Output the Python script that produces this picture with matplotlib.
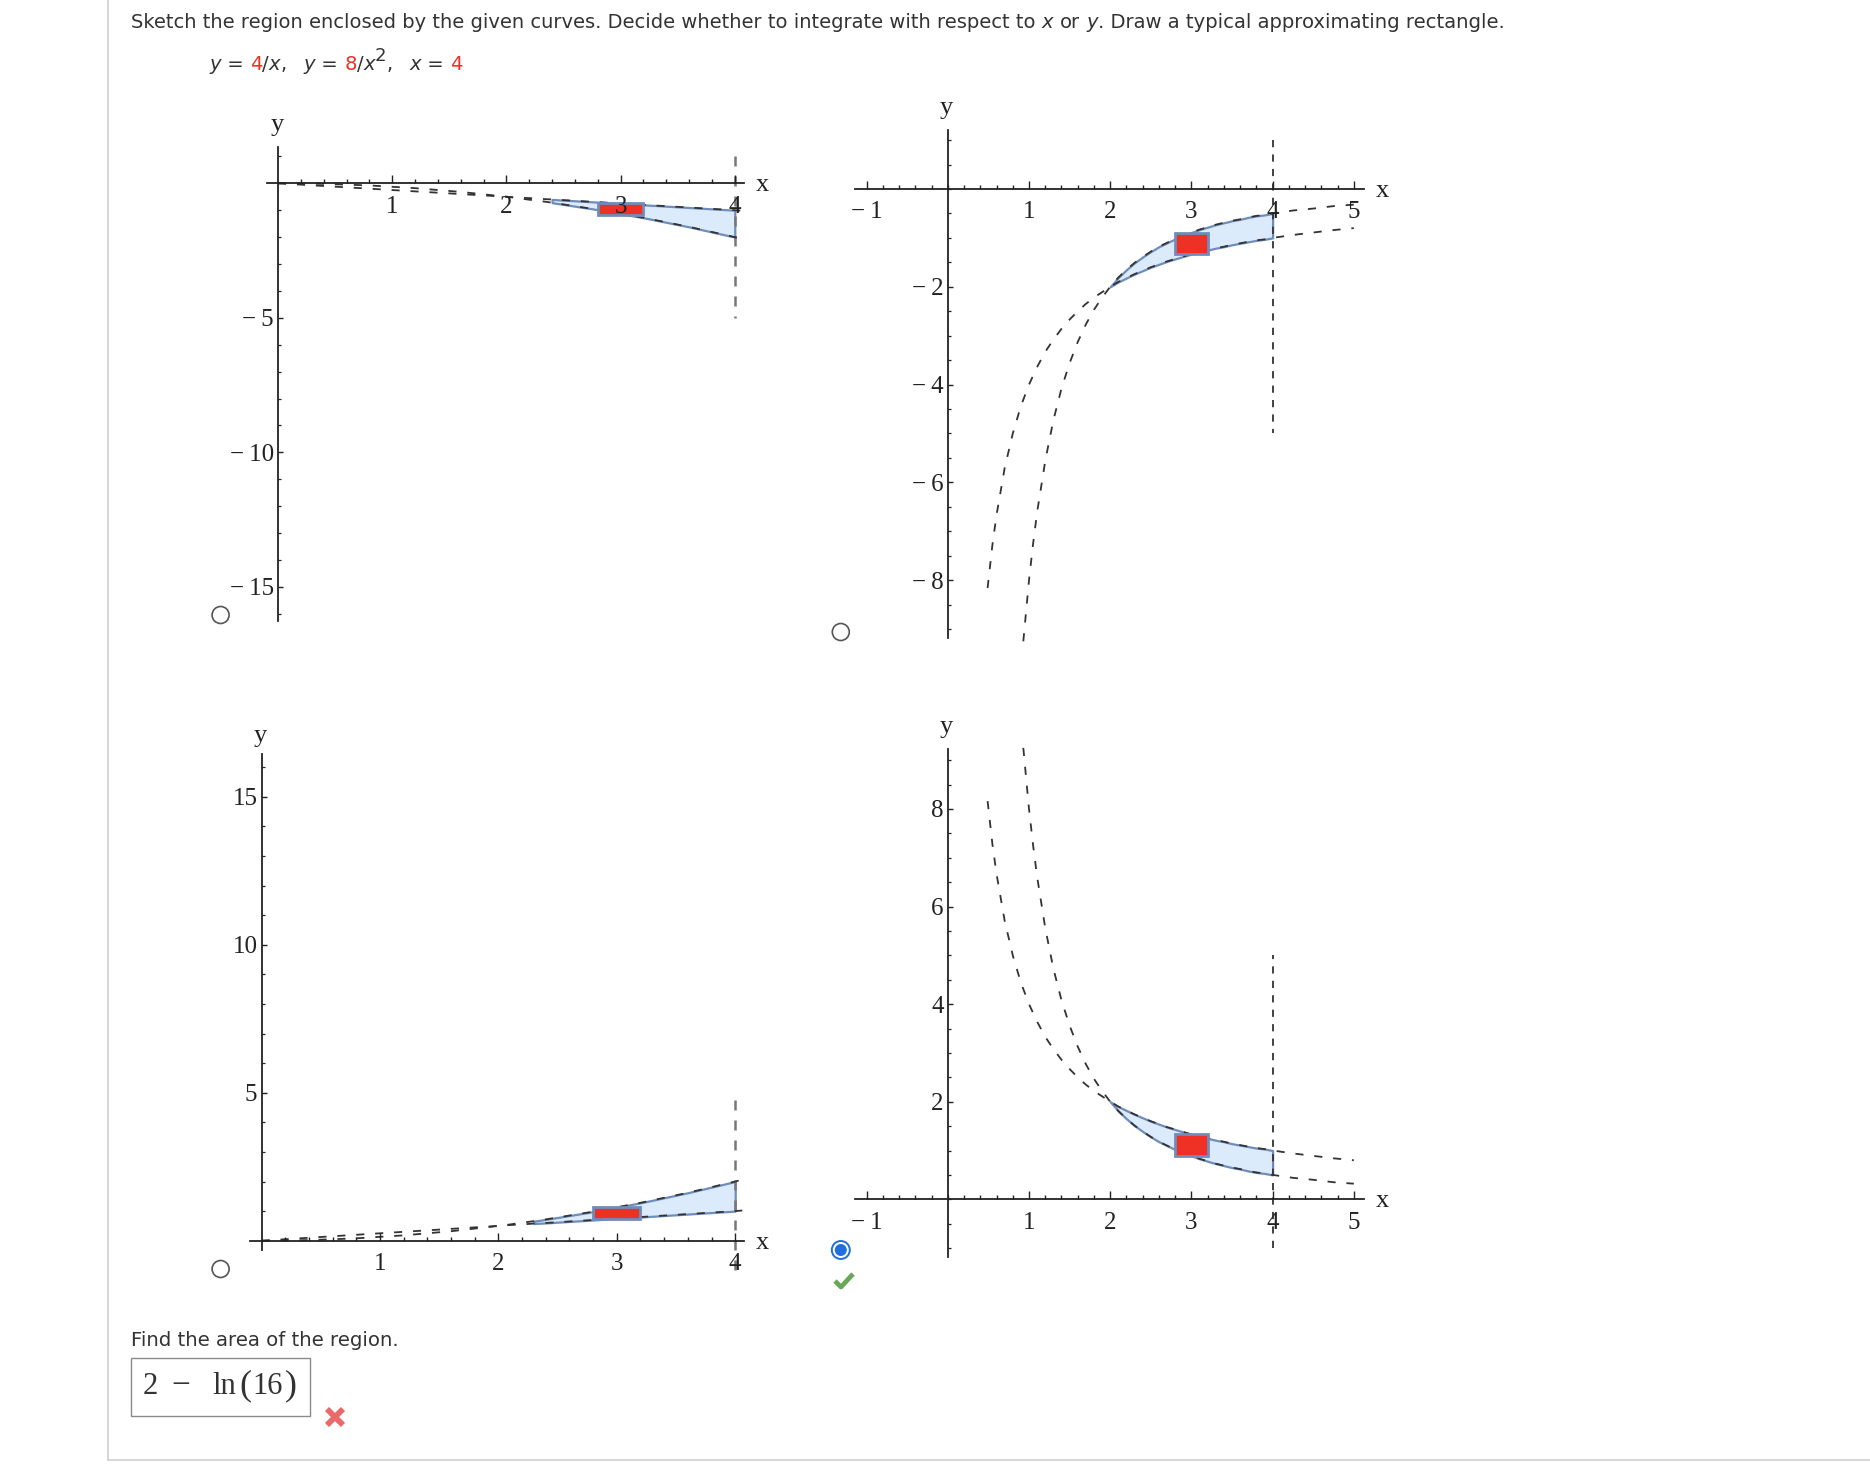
import matplotlib

matplotlib.use("Agg")
import matplotlib.pyplot as plt
import numpy as np
from matplotlib.patches import Circle, Rectangle

W, H = 1870, 1468
SERIF = "Liberation Serif"
SANS = "DejaVu Sans"
TEXT = "#333333"
RED = "#ee3124"
DASH = "#333333"
EDGE = "#6f8dbb"
FILL = "#dcebfb"

# y = 4/x and y = 8/x^2
x_reg = np.array([2.0, 2.1, 2.2, 2.3, 2.4, 2.5, 2.6, 2.7, 2.8, 2.9, 3.0,
                  3.1, 3.2, 3.3, 3.4, 3.5, 3.6, 3.7, 3.8, 3.9, 4.0])
y_hyp_reg = np.array([2.00, 1.90, 1.82, 1.74, 1.67, 1.60, 1.54, 1.48, 1.43, 1.38, 1.33,
                      1.29, 1.25, 1.21, 1.18, 1.14, 1.11, 1.08, 1.05, 1.03, 1.00])
y_sq_reg = np.array([2.00, 1.81, 1.65, 1.51, 1.39, 1.28, 1.18, 1.10, 1.02, 0.95, 0.89,
                     0.83, 0.78, 0.73, 0.69, 0.65, 0.62, 0.58, 0.55, 0.53, 0.50])

x_hyp_left = np.array([0.49, 0.55, 0.60, 0.70, 0.80, 0.90, 1.00, 1.10, 1.20, 1.30, 1.40, 1.50, 1.60, 1.70, 1.80, 1.90])
y_hyp_left = np.array([8.16, 7.27, 6.67, 5.71, 5.00, 4.44, 4.00, 3.64, 3.33, 3.08, 2.86, 2.67, 2.50, 2.35, 2.22, 2.11])
x_sq_left = np.array([0.93, 1.00, 1.05, 1.10, 1.20, 1.30, 1.40, 1.50, 1.60, 1.70, 1.80, 1.90])
y_sq_left = np.array([9.25, 8.00, 7.26, 6.61, 5.56, 4.73, 4.08, 3.56, 3.13, 2.77, 2.47, 2.22])
x_right = np.array([4.25, 4.50, 4.75, 5.00])
y_hyp_right = np.array([0.94, 0.89, 0.84, 0.80])
y_sq_right = np.array([0.44, 0.40, 0.35, 0.32])

# wrong choices on the left: y = x/4 and y = x^2/8
x_low = np.array([0.0, 0.2, 0.4, 0.6, 0.8, 1.0, 1.2, 1.4, 1.6, 1.8, 2.0, 2.1, 2.2, 2.3, 2.4,
                  2.6, 2.8, 3.0, 3.2, 3.4, 3.6, 3.8, 4.0, 4.06])
y_line = np.array([0.00, 0.05, 0.10, 0.15, 0.20, 0.25, 0.30, 0.35, 0.40, 0.45, 0.50, 0.53, 0.55, 0.58, 0.60,
                   0.65, 0.70, 0.75, 0.80, 0.85, 0.90, 0.95, 1.00, 1.02])
y_para = np.array([0.00, 0.01, 0.02, 0.05, 0.08, 0.13, 0.18, 0.25, 0.32, 0.41, 0.50, 0.55, 0.61, 0.66, 0.72,
                   0.85, 0.98, 1.13, 1.28, 1.45, 1.62, 1.81, 2.00, 2.06])

x_major_right = [-1, 1, 2, 3, 4, 5]
x_major_left = [1, 2, 3, 4]
y_major_top_right = [-8, -6, -4, -2]
y_major_bot_right = [2, 4, 6, 8]
y_major_top_left = [-15, -10, -5]
y_major_bot_left = [5, 10, 15]

fig = plt.figure(figsize=(W / 100, H / 100), dpi=100, facecolor="white")

# page furniture, in image pixels
page = fig.add_axes([0, 0, 1, 1], zorder=0)
page.set_xlim(0, W)
page.set_ylim(H, 0)
page.axis("off")
over = fig.add_axes([0, 0, 1, 1], zorder=10)
over.set_xlim(0, W)
over.set_ylim(H, 0)
over.axis("off")


def panel(ox, oy, sx, sy, left, right, top, bottom, xmaj, ymaj, xmin, ymin):
    # ox, oy is the pixel of the origin, sx, sy pixels per unit
    ax = fig.add_axes([left / W, 1 - bottom / H, (right - left) / W, (bottom - top) / H], zorder=2)
    ax.set_xlim((left - ox) / sx, (right - ox) / sx)
    ax.set_ylim((oy - bottom) / sy, (oy - top) / sy)
    ax.patch.set_alpha(0)
    for side in ("top", "right"):
        ax.spines[side].set_visible(False)
    ax.spines["left"].set_position(("data", 0))
    ax.spines["bottom"].set_position(("data", 0))
    for side in ("left", "bottom"):
        ax.spines[side].set_linewidth(1.3)
        ax.spines[side].set_color("#222222")
    ax.set_xticks(xmaj)
    ax.set_xticklabels([str(v).replace("-", "\u2212\u2009") for v in xmaj], family=SERIF, fontsize=18, color="#222222")
    ax.set_yticks(ymaj)
    ax.set_yticklabels([str(v).replace("-", "\u2212\u2009") for v in ymaj], family=SERIF, fontsize=18, color="#222222")
    ax.set_xticks(xmin, minor=True)
    ax.set_yticks(ymin, minor=True)
    ax.tick_params(axis="x", which="major", direction="in", length=5.5, width=1.0, pad=9, color="#222222")
    ax.tick_params(axis="x", which="minor", direction="in", length=3, width=1.0, color="#222222")
    ax.tick_params(axis="y", which="major", direction="in", length=3.5, width=1.0, pad=3, color="#222222")
    ax.tick_params(axis="y", which="minor", direction="in", length=2, width=0.9, color="#222222")
    ax.set_axisbelow(False)
    return ax


def dashed(ax, x, y):
    ax.plot(x, y, color=DASH, linewidth=1.3, linestyle=(0, (4.5, 6)), clip_on=False, zorder=2)


def region(ax, x, y1, y2, bar, vline, vcolor=DASH, vwidth=1.3):
    ax.fill_between(x, y1, y2, facecolor=FILL, edgecolor=EDGE, linewidth=1.6, zorder=1)
    ax.add_patch(Rectangle((2.8, bar[0]), 0.4, bar[1] - bar[0], facecolor=RED, edgecolor=EDGE, linewidth=2, zorder=2.2))
    ax.plot([4, 4], vline, color=vcolor, linewidth=vwidth, linestyle=(0, (4, 4)), zorder=2, clip_on=False)


x_ticks_wide = np.round(np.arange(-1.0, 5.01, 0.2), 1)
x_ticks_low = np.round(np.arange(0.2, 4.01, 0.2), 1)

# top left
ax = panel(278, 183.3, 114.2, 26.9, 267, 744, 147, 621, x_major_left, y_major_top_left,
           x_ticks_low, np.arange(-16, 1.5, 1.0))
mask = (x_low >= 2.4) & (x_low <= 4.0)
region(ax, x_low[mask], -y_line[mask], -y_para[mask], (-1.18, -0.74), [1, -5], "#777777", 1.8)
dashed(ax, x_low, -y_line)
dashed(ax, x_low, -y_para)

# top right
ax = panel(947.8, 189, 81.2, 48.9, 855, 1364, 130, 638, x_major_right, y_major_top_right,
           x_ticks_wide, np.arange(-9, 1.2, 0.5))
region(ax, x_reg, -y_hyp_reg, -y_sq_reg, (-1.33, -0.89), [1, -5])
dashed(ax, np.r_[x_hyp_left, x_reg, x_right], -np.r_[y_hyp_left, y_hyp_reg, y_hyp_right])
dashed(ax, np.r_[x_sq_left, x_reg, x_right], -np.r_[y_sq_left, y_sq_reg, y_sq_right])

# bottom left
ax = panel(261.6, 1240.7, 118.4, 29.6, 250, 744, 754, 1250, x_major_left, y_major_bot_left,
           x_ticks_low, np.arange(1, 16.5, 1.0))
mask = (x_low >= 2.3) & (x_low <= 4.0)
region(ax, x_low[mask], y_line[mask], y_para[mask], (0.73, 1.13), [-1, 5.1], "#777777", 1.8)
dashed(ax, x_low, y_line)
dashed(ax, x_low, y_para)

# bottom right
ax = panel(947.8, 1199.3, 81.2, 48.8, 855, 1364, 749, 1257, x_major_right, y_major_bot_right,
           x_ticks_wide, np.arange(-1, 9.2, 0.5))
region(ax, x_reg, y_hyp_reg, y_sq_reg, (0.89, 1.33), [-1, 5])
dashed(ax, np.r_[x_hyp_left, x_reg, x_right], np.r_[y_hyp_left, y_hyp_reg, y_hyp_right])
dashed(ax, np.r_[x_sq_left, x_reg, x_right], np.r_[y_sq_left, y_sq_reg, y_sq_right])

# axis names
for px, py, s in [(762, 185, "x"), (277, 125, "y"), (1382, 191, "x"), (946, 108, "y"),
                  (762, 1243, "x"), (260, 736, "y"), (1382, 1201, "x"), (946, 727, "y")]:
    over.text(px, py, s, family=SERIF, fontsize=19, color="#222222", ha="center", va="center")

# page frame
page.plot([108, 108], [0, 1460], color="#cfcfcf", linewidth=1.2)
page.plot([108, W], [1460, 1460], color="#cfcfcf", linewidth=1.2)

page.text(131, 22, "Sketch the region enclosed by the given curves. Decide whether to integrate with respect to",
          family=SANS, fontsize=14.08, color=TEXT, va="center")


def run(x, y, parts):
    # lay text pieces end to end, measuring each one
    r = fig.canvas.get_renderer()
    for s, color, style, size, dy in parts:
        t = page.text(x, y + dy, s, family=SANS, fontsize=size, color=color, style=style, va="baseline")
        x += t.get_window_extent(r).width if s.strip() else size * 0.45
    return x


end = page.texts[-1].get_window_extent(fig.canvas.get_renderer()).x1 + 6
run(end, 28, [("x", TEXT, "italic", 14.1, 0), (" ", TEXT, "normal", 15, 0), ("or", TEXT, "normal", 14.1, 0),
              (" ", TEXT, "normal", 15, 0), ("y", TEXT, "italic", 14.1, 0),
              (". Draw a typical approximating rectangle.", TEXT, "normal", 14.1, 0)])

run(209, 70, [("y", TEXT, "italic", 14.1, 0), (" = ", TEXT, "normal", 14.1, 0), ("4", RED, "normal", 14.1, 0),
              ("/", TEXT, "normal", 14.1, 0), ("x", TEXT, "italic", 14.1, 0), (",", TEXT, "normal", 14.1, 0),
              (" ", TEXT, "normal", 38, 0), ("y", TEXT, "italic", 14.1, 0), (" = ", TEXT, "normal", 14.1, 0),
              ("8", RED, "normal", 14.1, 0), ("/", TEXT, "normal", 14.1, 0), ("x", TEXT, "italic", 14.1, 0),
              ("2", TEXT, "normal", 13, -9), (",", TEXT, "normal", 14.1, 0), (" ", TEXT, "normal", 38, 0),
              ("x", TEXT, "italic", 14.1, 0), (" = ", TEXT, "normal", 14.1, 0), ("4", RED, "normal", 14.1, 0)])

page.text(131, 1340, "Find the area of the region.", family=SANS, fontsize=14.2, color=TEXT, va="center")

# answer box
page.add_patch(Rectangle((131, 1358), 179, 58, facecolor="white", edgecolor="#8a8a8a", linewidth=1))
for px, s, size in [(150, "2", 22), (181, "\u2212", 24), (224, "ln", 22), (245, "(", 26),
                    (268, "16", 22), (291, ")", 26)]:
    page.text(px, 1386, s, family=SERIF, fontsize=size, color="#333333", ha="center", va="center")

# radio buttons
for px, py in [(220.6, 615), (840.8, 632), (220.6, 1269)]:
    page.add_patch(Circle((px, py), 8.5, facecolor="white", edgecolor="#555555", linewidth=1.2))
page.add_patch(Circle((840.8, 1250), 9, facecolor="white", edgecolor="#1f6fe0", linewidth=1.4))
page.add_patch(Circle((840.8, 1250), 6, facecolor="#1f6fe0", edgecolor="none"))

# check and cross marks
page.plot([835, 841, 853], [1281, 1287, 1274], color="#6aa657", linewidth=3.4, solid_capstyle="butt")
page.plot([327, 343], [1409, 1425], color="#e96a6a", linewidth=4.2, solid_capstyle="butt")
page.plot([327, 343], [1425, 1409], color="#e96a6a", linewidth=4.2, solid_capstyle="butt")

fig.savefig("out.png", dpi=100)
